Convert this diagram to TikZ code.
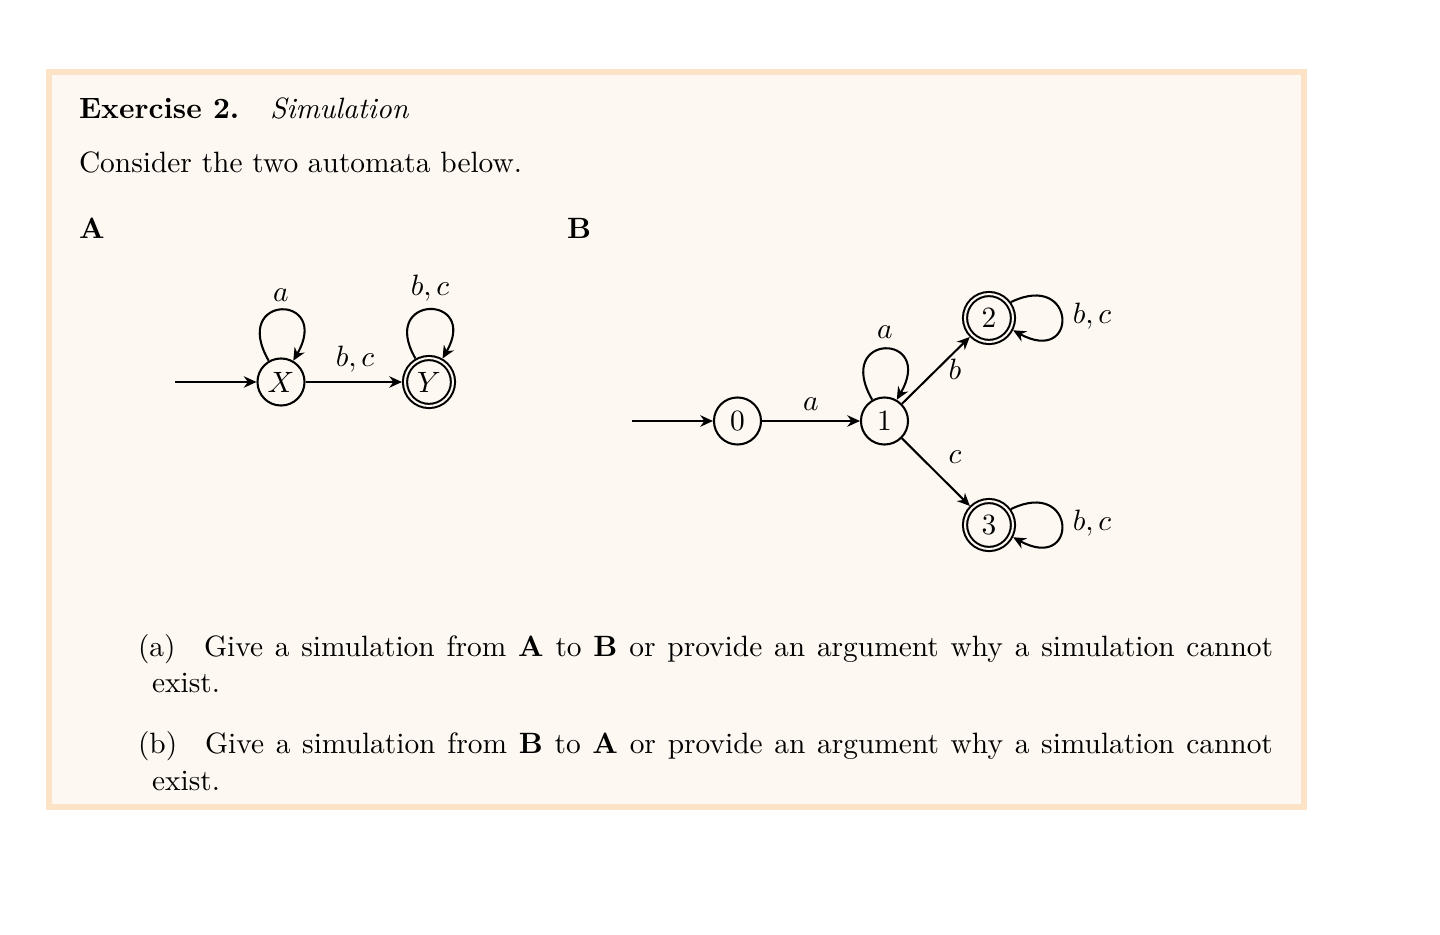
\documentclass[tikz,border=0pt]{standalone}
\usetikzlibrary{arrows.meta}
\definecolor{boxfill}{RGB}{253,248,241}
\definecolor{boxline}{RGB}{252,226,198}
\begin{document}
\begin{tikzpicture}[x=0.34pt,y=-0.34pt,
  every node/.style={inner sep=0pt, outer sep=0pt},
  txt/.style={anchor=base west},
  lbl/.style={anchor=base},
  stt/.style={circle, draw, line width=0.7pt, minimum size=16pt, inner sep=0pt, outer sep=0.35pt},
  acc/.style={stt, minimum size=16.3pt, double=boxfill, double distance=0.7pt, outer sep=1.05pt},
  tr/.style={line width=0.7pt, -{Stealth[length=4.3pt,width=3.9pt,inset=1.4pt]}},
]
\useasboundingbox (0,0) rectangle (1440,935);
\fill[white] (0,0) rectangle (1440,935);
\draw[boxline, fill=boxfill, line width=2pt] (49,72) rectangle (1304,807);

% header text
\node[txt] (ex) at (79,118) {\textbf{Exercise 2.}};
\node[txt] (sim) at (270,118) {\textit{Simulation}};
\node[txt] (cons) at (79,172) {Consider the two automata below.};
\node[txt] (hA) at (79,238) {\textbf{A}};
\node[txt] (hB) at (567,238) {\textbf{B}};

% automaton A
\node[stt] (X) at (281,382) {$X$};
\node[acc] (Y) at (429,382) {$Y$};
\coordinate (iA) at (175,382);
\draw[tr] (iA) -- (X);
\draw[tr] (X) -- (Y);
\draw[tr] (X.120) .. controls +(-39,-67.5) and +(39,-67.5) .. (X.60);
\draw[tr] (Y.120) .. controls +(-37.5,-65) and +(37.5,-65) .. (Y.60);
\node[lbl] (la1) at (281,301) {$a$};
\node[lbl] (lbc1) at (430,295) {$b,c$};
\node[lbl] (lbc2) at (355,366) {$b,c$};

% automaton B
\node[stt] (n0) at (737.5,421) {$0$};
\node[stt] (n1) at (884.5,421) {$1$};
\node[acc] (n2) at (989,318) {$2$};
\node[acc] (n3) at (989,525) {$3$};
\coordinate (iB) at (632,421);
\draw[tr] (iB) -- (n0);
\draw[tr] (n0) -- (n1);
\draw[tr] (n1) -- (n2);
\draw[tr] (n1) -- (n3);
\draw[tr] (n1.120) .. controls +(-39,-67.5) and +(39,-67.5) .. (n1.60);
\draw[tr] (n2.36) .. controls +(66,-32) and +(66,36) .. (n2.-27);
\draw[tr] (n3.36) .. controls +(66,-32) and +(66,36) .. (n3.-27);
\node[lbl] (l01) at (811,410) {$a$};
\node[lbl] (l11) at (885,338) {$a$};
\node[lbl] (l12) at (955,379) {$b$};
\node[lbl] (l13) at (955,463) {$c$};
\node[lbl] (l22) at (1092,323.5) {$b,c$};
\node[lbl] (l33) at (1092,530) {$b,c$};

% questions
\node[txt] (qa) at (138,656) {(a)};
\node[txt] (qa1) at (204,656) {\makebox[363.5pt][s]{Give a simulation from \textbf{A} to \textbf{B} or provide an argument why a simulation cannot}};
\node[txt] (qa2) at (152,692) {exist.};
\node[txt] (qb) at (138,753) {(b)};
\node[txt] (qb1) at (205,753) {\makebox[363.1pt][s]{Give a simulation from \textbf{B} to \textbf{A} or provide an argument why a simulation cannot}};
\node[txt] (qb2) at (152,790) {exist.};
\end{tikzpicture}
\end{document}
